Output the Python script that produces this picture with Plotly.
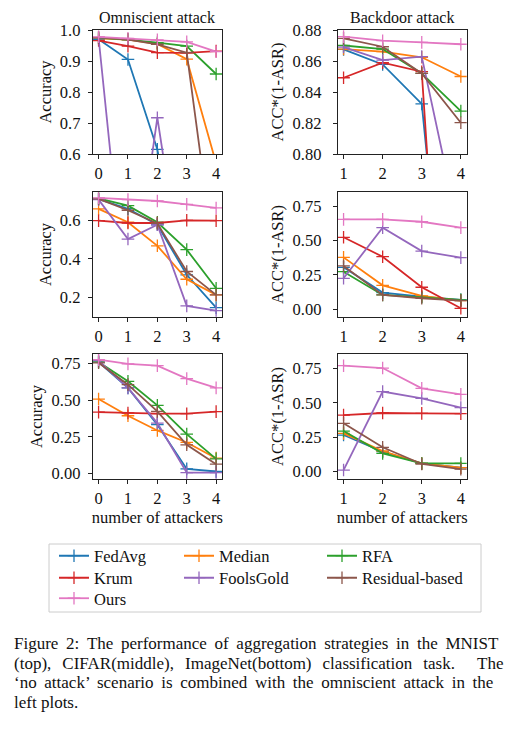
import plotly.graph_objects as go

# Series names and colours (matplotlib tab10)
names = ['FedAvg', 'Median', 'RFA', 'Krum', 'FoolsGold', 'Residual-based', 'Ours']
colors = ['#1f77b4', '#ff7f0e', '#2ca02c', '#d62728', '#9467bd', '#8c564b', '#e377c2']

x_omni = [0, 1, 2, 3, 4]
x_back = [1, 2, 3, 4]

# MNIST (top row)
mnist_omni = {
    'FedAvg': [0.970, 0.905, 0.615, 0.10, 0.10],
    'Median': [0.973, 0.969, 0.955, 0.906, 0.57],
    'RFA': [0.975, 0.969, 0.959, 0.948, 0.858],
    'Krum': [0.966, 0.948, 0.927, 0.926, 0.932],
    'FoolsGold': [0.975, 0.05, 0.717, 0.10, 0.10],
    'Residual-based': [0.976, 0.969, 0.954, 0.927, 0.22],
    'Ours': [0.978, 0.973, 0.968, 0.962, 0.930],
}
mnist_back = {
    'FedAvg': [0.8675, 0.8578, 0.8323, 0.58],
    'Median': [0.8677, 0.8660, 0.8624, 0.850],
    'RFA': [0.8700, 0.8677, 0.8520, 0.8277],
    'Krum': [0.8492, 0.8589, 0.8531, 0.47],
    'FoolsGold': [0.8690, 0.8606, 0.8628, 0.745],
    'Residual-based': [0.8746, 0.8692, 0.8520, 0.8202],
    'Ours': [0.8757, 0.8731, 0.8720, 0.8708],
}

# CIFAR (middle row)
cifar_omni = {
    'FedAvg': [0.710, 0.660, 0.577, 0.318, 0.148],
    'Median': [0.659, 0.590, 0.468, 0.295, 0.214],
    'RFA': [0.713, 0.676, 0.590, 0.448, 0.248],
    'Krum': [0.598, 0.586, 0.586, 0.600, 0.598],
    'FoolsGold': [0.707, 0.503, 0.577, 0.157, 0.132],
    'Residual-based': [0.711, 0.652, 0.584, 0.335, 0.214],
    'Ours': [0.716, 0.707, 0.700, 0.683, 0.664],
}
cifar_back = {
    'FedAvg': [0.305, 0.121, 0.092, 0.068],
    'Median': [0.377, 0.174, 0.097, 0.063],
    'RFA': [0.273, 0.104, 0.087, 0.068],
    'Krum': [0.523, 0.382, 0.160, 0.007],
    'FoolsGold': [0.225, 0.593, 0.423, 0.375],
    'Residual-based': [0.315, 0.104, 0.080, 0.063],
    'Ours': [0.653, 0.653, 0.636, 0.593],
}

# ImageNet (bottom row)
imagenet_omni = {
    'FedAvg': [0.760, 0.584, 0.333, 0.032, 0.014],
    'Median': [0.508, 0.394, 0.294, 0.212, 0.105],
    'RFA': [0.761, 0.629, 0.465, 0.269, 0.100],
    'Krum': [0.419, 0.413, 0.408, 0.408, 0.422],
    'FoolsGold': [0.770, 0.584, 0.344, 0.007, 0.007],
    'Residual-based': [0.755, 0.606, 0.424, 0.196, 0.064],
    'Ours': [0.777, 0.748, 0.736, 0.647, 0.584],
}
imagenet_back = {
    'FedAvg': [0.266, 0.145, 0.060, 0.029],
    'Median': [0.278, 0.150, 0.060, 0.029],
    'RFA': [0.295, 0.133, 0.060, 0.060],
    'Krum': [0.411, 0.426, 0.423, 0.421],
    'FoolsGold': [0.012, 0.581, 0.532, 0.465],
    'Residual-based': [0.351, 0.177, 0.056, 0.019],
    'Ours': [0.769, 0.752, 0.605, 0.561],
}

caption_lines = [
    'Figure 2: The performance of aggregation strategies in the MNIST',
    '(top), CIFAR(middle), ImageNet(bottom) classification task.  The',
    '\u2018no attack\u2019 scenario is combined with the omniscient attack in the',
    'left plots.',
]
# extra filler after each space to imitate the justified caption lines
caption_fill = ['\u2009', '\u2009\u2009', '\u2009', '']

# page has an 8px body margin, so the figure is 16px smaller than the window
OFF = 8
FW, FH = 517 - 2 * OFF, 734 - 2 * OFF
FONT = 'Liberation Serif, serif'
AX = '#222222'

def px(v):
    return (v - OFF) / FW

def py(v):
    return 1 - (v - OFF) / FH

# legend grid (matplotlib ncol=3): every entry gets its own legend box
legend_cell = {'FedAvg': (0, 0), 'Krum': (0, 1), 'Ours': (0, 2),
               'Median': (1, 0), 'FoolsGold': (1, 1),
               'RFA': (2, 0), 'Residual-based': (2, 1)}
legend_cols = [54, 179, 322]
legend_rows = [556, 578, 598.5]
legend_id = {n: ('legend' if i == 0 else 'legend%d' % (i + 1))
             for i, n in enumerate(names)}

panels = [
    (mnist_omni, x_omni, 1), (mnist_back, x_back, 2),
    (cifar_omni, x_omni, 3), (cifar_back, x_back, 4),
    (imagenet_omni, x_omni, 5), (imagenet_back, x_back, 6),
]

fig = go.Figure()
for data, xs, k in panels:
    suffix = '' if k == 1 else str(k)
    for name, col in zip(names, colors):
        fig.add_trace(go.Scatter(
            x=xs, y=data[name], name=name, mode='lines+markers',
            xaxis='x' + suffix, yaxis='y' + suffix,
            line=dict(color=col, width=1.8),
            marker=dict(symbol='cross-thin', size=9, color=col,
                        line=dict(color=col, width=1.3)),
            legendgroup=name, showlegend=(k == 1),
            legend=legend_id[name]))

# axis placement (pixels in the 517x734 picture)
col_x = [(92.7, 222.0), (337.7, 466.7)]
row_y = [(30.0, 154.0), (192.3, 316.7), (354.0, 479.0)]
yranges = [[0.6, 1.0], [0.80, 0.88],
           [0.101, 0.745], [-0.054, 0.85],
           [-0.037, 0.815], [-0.053, 0.854]]
ytickvals = [[0.6, 0.7, 0.8, 0.9, 1.0], [0.80, 0.82, 0.84, 0.86, 0.88],
             [0.2, 0.4, 0.6], [0.0, 0.25, 0.5, 0.75],
             [0.0, 0.25, 0.5, 0.75], [0.0, 0.25, 0.5, 0.75]]
yfmt = ['.1f', '.2f', '.1f', '.2f', '.2f', '.2f']
ytitles = ['Accuracy', 'ACC*(1-ASR)'] * 3

txt = dict(family=FONT, size=16.5, color='#111111')
axis_common = dict(showline=True, mirror=True, linecolor=AX, linewidth=1,
                   ticks='outside', ticklen=4, tickwidth=1, tickcolor=AX,
                   showgrid=False, zeroline=False, automargin=False,
                   tickfont=txt)

layout = {}
for i in range(6):
    r, c = divmod(i, 2)
    suffix = '' if i == 0 else str(i + 1)
    x0, x1 = col_x[c]
    y0, y1 = row_y[r]
    xr = [-0.2, 4.2] if c == 0 else [0.85, 4.15]
    xt = dict(axis_common, domain=[px(x0), px(x1)], range=xr,
              tickvals=x_omni if c == 0 else x_back,
              anchor='y' + suffix)
    if r == 2:
        xt['title'] = dict(text='number of attackers', standoff=4, font=txt)
    yt = dict(axis_common, domain=[py(y1), py(y0)], range=yranges[i],
              tickvals=ytickvals[i], tickformat=yfmt[i],
              ticklabelstandoff=4 if c == 0 else 8,
              anchor='x' + suffix,
              title=dict(text=ytitles[i], standoff=4, font=txt))
    layout['xaxis' + suffix] = xt
    layout['yaxis' + suffix] = yt

annotations = [
    dict(text='Omniscient attack', x=px(157.3), y=py(17.5), xref='paper', yref='paper',
         showarrow=False, xanchor='center', yanchor='middle',
         font=dict(txt, size=16)),
    dict(text='Backdoor attack', x=px(402.2), y=py(17.5), xref='paper', yref='paper',
         showarrow=False, xanchor='center', yanchor='middle',
         font=dict(txt, size=16)),
]
for j, line in enumerate(caption_lines):
    annotations.append(dict(
        text=line.replace(' ', ' ' + caption_fill[j]), x=px(12), y=py(643.5 + j * 19.7),
        xref='paper', yref='paper',
        showarrow=False, xanchor='left', yanchor='middle', align='left',
        font=dict(family='Liberation Serif', size=17, color='#111111')))

for name in names:
    c, r = legend_cell[name]
    layout[legend_id[name]] = dict(
        orientation='v', xanchor='left', yanchor='middle',
        x=px(legend_cols[c]), y=py(legend_rows[r]),
        bgcolor='rgba(0,0,0,0)', borderwidth=0,
        font=dict(txt, size=16.5),
        itemclick=False, itemdoubleclick=False)

fig.update_layout(
    width=FW, height=FH,
    margin=dict(l=0, r=0, t=0, b=0),
    paper_bgcolor='white', plot_bgcolor='white',
    font=txt,
    annotations=annotations,
    shapes=[dict(type='rect', xref='paper', yref='paper',
                 x0=px(49), x1=px(481), y0=py(612), y1=py(544),
                 line=dict(color='#cccccc', width=1))],
    **layout,
)

fig.write_html("out.html")
